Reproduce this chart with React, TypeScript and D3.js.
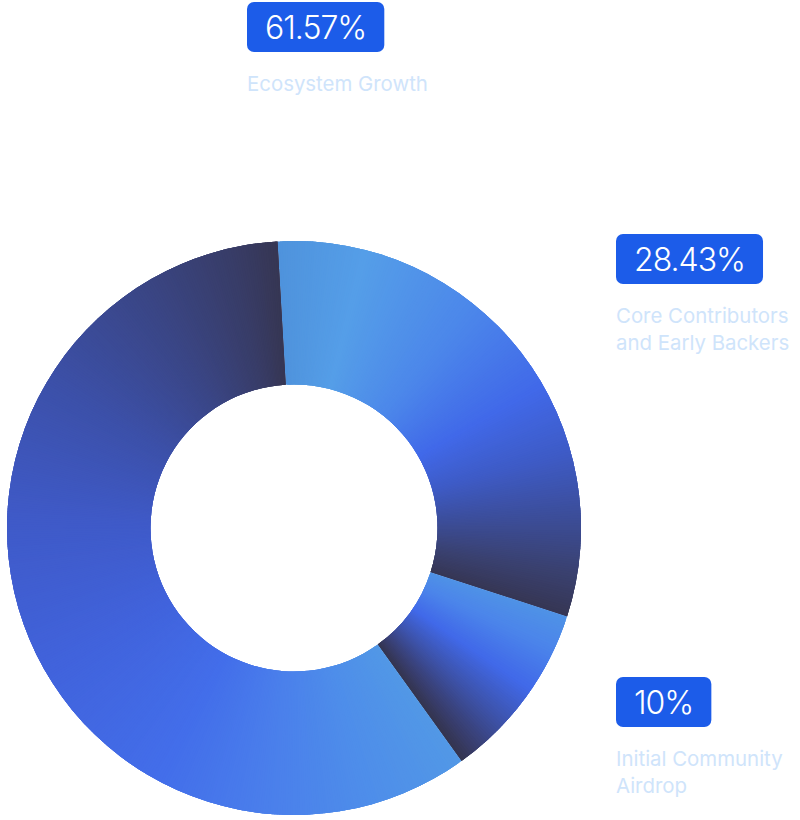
import React, { useMemo } from "react";
import * as d3 from "d3";

// ---- Data ----
const categories = ["Core Contributors and Early Backers", "Initial Community Airdrop", "Ecosystem Growth"];
const labelLines = [["Core Contributors", "and Early Backers"], ["Initial Community", "Airdrop"], ["Ecosystem Growth"]];
const labelValues = [28.43, 10, 61.57];
// angular share of each slice as drawn in the picture (percent of the ring)
const sliceShares = [30.9, 10.1, 59.0];

// ---- Style / layout ----
const W = 800;
const H = 820;
const CX = 294;
const CY = 528;
const R_OUT = 287;
const R_IN = 143.5;
const START_DEG = -3.3;
const BADGE_COLOR = "#1c5ce9";
const LABEL_COLOR = "#cfe4fb";
const FONT = "Inter, 'Noto Sans', sans-serif";
const badgePos = [
  { x: 616, y: 234 },
  { x: 616, y: 677 },
  { x: 247, y: 2 },
];
const gradientStops = [
  { t: [0, 0.16, 0.38, 0.57, 0.7, 0.82, 0.92, 1], c: ["#4f93dc", "#559ee8", "#4c87ea", "#4169e9", "#3e5bc6", "#3c4d98", "#3a4170", "#363654"] },
  { t: [0, 0.18, 0.45, 0.7, 0.88, 1], c: ["#4f92e6", "#4c86ea", "#4169e9", "#3d52a8", "#393f72", "#34344e"] },
  { t: [0, 0.1, 0.2, 0.3, 0.45, 0.6, 0.74, 0.87, 0.96, 1], c: ["#5298e6", "#4e8dea", "#4a7eeb", "#436eea", "#4163dc", "#3f5ac8", "#3c50a8", "#3a4583", "#383c66", "#363653"] },
];

function measure(text: string, font: string, spacing: number): number {
  if (typeof document === "undefined") return text.length * 16;
  const c = document.createElement("canvas");
  const ctx = c.getContext("2d");
  if (!ctx) return text.length * 16;
  ctx.font = font;
  return ctx.measureText(text).width + spacing * text.length;
}

export default function App() {
  const pieData = useMemo(() => {
    const start = (START_DEG * Math.PI) / 180;
    return d3
      .pie<number>()
      .sort(null)
      .value((d) => d)
      .startAngle(start)
      .endAngle(start + 2 * Math.PI)(sliceShares);
  }, []);

  const ringArc = d3.arc<any>().innerRadius(R_IN).outerRadius(R_OUT);
  const wedgeArc = d3.arc<any>().innerRadius(R_IN - 6).outerRadius(R_OUT + 6);

  const valueFont = `300 32px ${FONT}`;
  const spacing = -1;

  return (
    <svg
      width={W}
      height={H}
      viewBox={`0 0 ${W} ${H}`}
      style={{ position: "absolute", left: 0, top: 0, background: "#ffffff" }}
    >
      <defs>
        {pieData.map((p, i) => (
          <clipPath id={`seg-clip-${i}`} key={i}>
            <path d={ringArc(p) as string} />
          </clipPath>
        ))}
      </defs>
      <g transform={`translate(${CX},${CY})`}>
        {pieData.map((p, i) => {
          const g = gradientStops[i];
          const color = d3
            .scaleLinear<string>()
            .domain(g.t)
            .range(g.c)
            .interpolate(d3.interpolateRgb);
          const span = p.endAngle - p.startAngle;
          const n = Math.ceil(((span * 180) / Math.PI) * 2);
          const step = span / n;
          const pad = 0.02;
          const slices: React.ReactNode[] = [];
          for (let k = 0; k < n; k++) {
            const a0 = p.startAngle + k * step - (k === 0 ? pad : 0);
            const a1 = p.startAngle + (k + 1) * step + pad;
            slices.push(
              <path
                key={k}
                d={wedgeArc({ startAngle: a0, endAngle: a1 }) as string}
                fill={color((k + 0.5) / n)}
              />
            );
          }
          return (
            <g key={i} clipPath={`url(#seg-clip-${i})`}>
              {slices}
            </g>
          );
        })}
      </g>
      {categories.map((cat, i) => {
        const txt = `${labelValues[i]}%`;
        const tw = measure(txt, valueFont, spacing);
        const bw = tw + 36;
        const pos = badgePos[i];
        return (
          <g key={cat} transform={`translate(${pos.x},${pos.y})`}>
            <rect width={bw} height={50} rx={7} ry={7} fill={BADGE_COLOR} />
            <text
              x={18}
              y={37}
              fill="#ffffff"
              fontFamily={FONT}
              fontWeight={300}
              fontSize={32}
              letterSpacing={spacing}
            >
              {txt}
            </text>
            {labelLines[i].map((line, j) => (
              <text
                key={j}
                x={0}
                y={89 + j * 27}
                fill={LABEL_COLOR}
                fontFamily={FONT}
                fontWeight={400}
                fontSize={20.4}
              >
                {line}
              </text>
            ))}
          </g>
        );
      })}
    </svg>
  );
}
